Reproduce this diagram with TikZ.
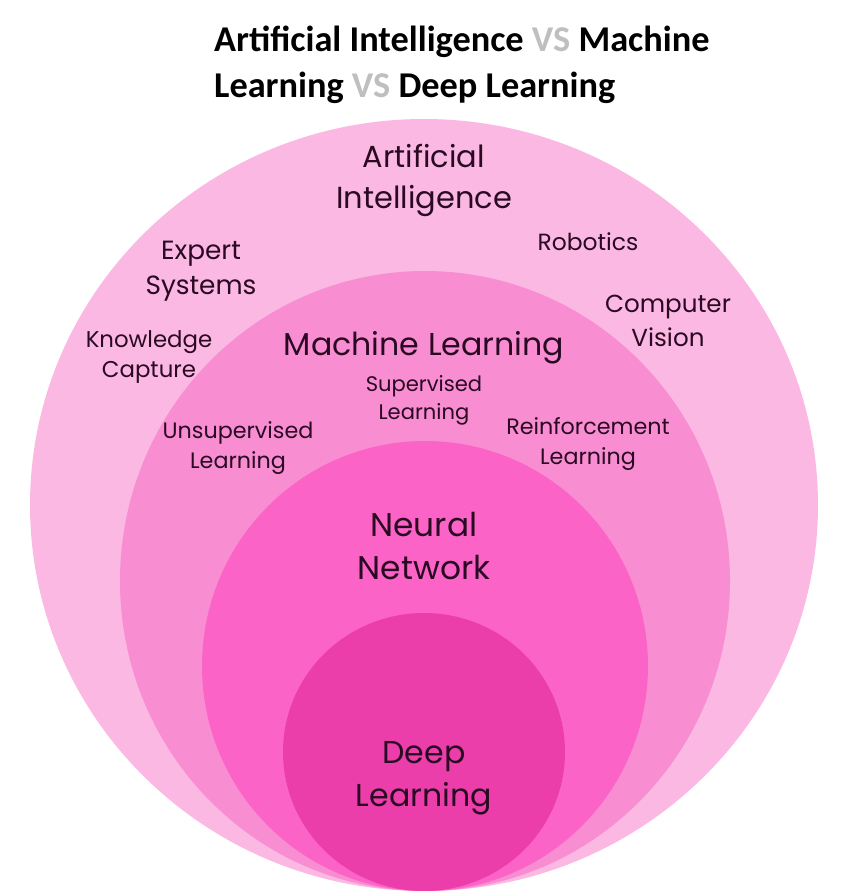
\documentclass[tikz,border=0pt]{standalone}
\usepackage{fontspec}
\setmainfont{Poppins}
\newfontfamily\titlefont{Carlito}
\definecolor{cAI}{HTML}{FBB8E2}
\definecolor{cML}{HTML}{F98DD2}
\definecolor{cNN}{HTML}{FB64C6}
\definecolor{cDL}{HTML}{EC3EAA}
\definecolor{ink}{HTML}{2A0A22}
\newcommand{\fs}[2]{\fontsize{#1}{#2}\selectfont}
\begin{document}
\begin{tikzpicture}[x=0.03cm,y=-0.03cm,
  lbl/.style={text=ink,align=center},
  ttl/.style={anchor=west,font=\titlefont\bfseries\fs{31}{39}}]
\useasboundingbox (0,0) rectangle (849,891);
\begin{scope}
\clip (0,0) rectangle (849,891);
\fill[cAI] (424,505) ellipse [x radius=394,y radius=386];
\fill[cML] (425,581) ellipse [x radius=305,y radius=310];
\fill[cNN] (425,666) ellipse [x radius=223,y radius=225];
\fill[cDL] (424,752) ellipse [x radius=141,y radius=139];
\end{scope}
\node[ttl] (t1) at (210,42) {Artificial Intelligence \textcolor{gray!50}{VS} Machine};
\node[ttl] (t2) at (210,88) {Learning \textcolor{gray!50}{VS} Deep Learning};
\node[lbl,font=\fs{26}{35}] (ai) at (424,180) {Artificial\\Intelligence};
\node[lbl,font=\fs{22.5}{30}] (es) at (201,271) {Expert\\Systems};
\node[lbl,font=\fs{20}{26}] (rb) at (588,242) {Robotics};
\node[lbl,font=\fs{21}{29}] (cv) at (668,321) {Computer\\Vision};
\node[lbl,font=\fs{19.5}{26}] (kc) at (149,357) {Knowledge\\Capture};
\node[lbl,font=\fs{27}{36}] (ml) at (424,348) {Machine Learning};
\node[lbl,font=\fs{18}{24}] (sl) at (424,400) {Supervised\\Learning};
\node[lbl,font=\fs{19}{26}] (ul) at (238,448) {Unsupervised\\Learning};
\node[lbl,font=\fs{19}{26}] (rl) at (588,444) {Reinforcement\\Learning};
\node[lbl,font=\fs{28}{37}] (nn) at (424,546) {Neural\\Network};
\node[lbl,font=\fs{27}{37}] (dl) at (424,778) {Deep\\Learning};
\end{tikzpicture}
\end{document}
